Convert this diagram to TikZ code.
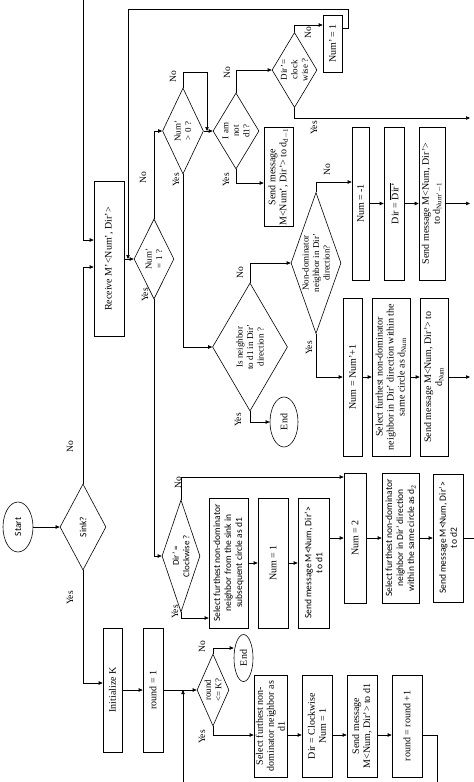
\documentclass[tikz,border=0pt]{standalone}
\usepackage{fontspec}
\setmainfont{Liberation Serif}
\setsansfont{Carlito}
\usetikzlibrary{shapes.geometric,arrows.meta,calc}

\tikzset{
  box/.style={draw, rectangle, rotate=90, inner sep=1pt, align=center},
  dec/.style={draw, diamond, rotate=90, inner sep=0pt, align=center, font=\fontsize{9}{10.5}\selectfont},
  term/.style={draw, ellipse, rotate=90, inner sep=0pt},
  yn/.style={rotate=90, inner sep=0pt, font=\fontsize{9.5}{11}\selectfont},
  sz/.style 2 args={minimum width=#1pt, minimum height=#2pt},
  sf/.style={font=\sffamily\fontsize{9.5}{11}\selectfont}
}

\begin{document}
\begin{tikzpicture}[x=1pt, y=-1pt, line width=0.6pt, >={Triangle[length=4pt, width=3.4pt]},
    font=\fontsize{10}{11}\selectfont]
    \useasboundingbox (0,0) rectangle (474,782);

    % Start and sink test
    \node[term, sf, sz={50}{30}] (start) at (18,527) {Start};
    \node[dec, sf, sz={86}{46}, aspect=1.9] (sink) at (83,527) {Sink?};

    % Receiving node
    \node[box, sz={155}{30}] (recv) at (109,259) {Receive M'<Num', Dir'>};
    \node[dec, sz={80}{40}, aspect=2] (numone) at (154,259) {Num'\\= 1 ?};
    \node[dec, sz={86}{41}, aspect=2.1] (numpos) at (183,131) {Num'\\> 0 ?};
    \node[dec, sz={76}{46}, aspect=1.65] (notdone) at (236,131) {I am\\not\\d1?};
    \node[dec, sz={75}{45}, aspect=1.67] (cw) at (294.5,70) {Dir'=\\clock\\wise ?};
    \node[box, sz={57}{19}] (numset) at (332.5,43.5) {Num' = 1};
    \node[box, sz={98}{29}] (sendprev) at (278.5,177) {Send message\\M<Num', Dir'> to d$_{\mathrm{d-1}}$};

    \node[dec, sz={128}{75}, aspect=1.7] (isnb) at (250,347) {Is neighbor\\to d1 in Dir'\\direction ?};
    \node[term, sz={50}{28}] (endA) at (284,422) {End};
    \node[dec, sz={141}{50}, aspect=2.8] (nondom) at (316,263) {Non-dominator\\neighbor in Dir'\\direction?};
    \node[box, sz={153}{17}] (numdec) at (360.5,203.5) {Num = -1};
    \node[box, sz={153}{20}] (dirflip) at (394,203.5) {Dir = $\overline{\mbox{Dir'}}$};
    \node[box, sz={153}{26}] (sendnm1) at (432,203.5) {Send message M<Num, Dir'>\\to d$_{\mathrm{Num'-1}}$};
    \node[box, sz={158}{19}] (numinc) at (352.5,377) {Num = Num'+1};
    \node[box, sz={158}{38}] (selnum) at (391,377) {Select furthest non-dominator\\neighbor in Dir' direction within the\\same circle as d$_{\mathrm{Num}}$};
    \node[box, sz={158}{28}] (sendnum) at (434,377) {Send message M<Num, Dir'> to\\d$_{\mathrm{Num}}$};

    % Clockwise test
    \node[dec, font=\sffamily\fontsize{9}{10.5}\selectfont, sz={112}{38}, aspect=2.95] (dircw) at (181,556) {Dir' =\\Clockwise ?};
    \node[box, sf, sz={130}{39}] (selsink) at (228.5,563) {Select furthest non-dominator\\neighbor from the sink in\\subsequent circle as d1};
    \node[box, sz={130}{30}] (numA) at (273,563) {Num = 1};
    \node[box, sf, sz={130}{31}] (sendA) at (313.5,563) {Send message M<Num, Dir'>\\to d1};
    \node[box, sz={130}{22}] (numB) at (355,538) {Num = 2};
    \node[box, sf, sz={130}{37}] (selB) at (400.5,538) {Select furthest non-dominator\\neighbor in Dir' direction\\within the same circle as d$_2$};
    \node[box, sf, sz={128}{30}] (sendB) at (448,538) {Send message M<Num, Dir'>\\to d2};

    % Sink rounds
    \node[box, sz={124}{19}] (init) at (112.5,690) {Initialize K};
    \node[box, sz={124}{20}] (rnd1) at (153,690) {round = 1};
    \node[dec, sz={72}{32}, aspect=2.25] (rndq) at (213,690) {round\\<= K?};
    \node[term, sz={47}{19}] (endB) at (243.5,658) {End};
    \node[box, sz={102}{33}] (selfirst) at (270.5,726) {Select furthest non-\\dominator neighbor as\\d1};
    \node[box, sz={102}{30}] (dirset) at (317,726) {Dir = Clockwise\\Num = 1};
    \node[box, sz={102}{30}] (sendC) at (362,726) {Send message\\M<Num, Dir'> to d1};
    \node[box, sz={102}{30}] (rndinc) at (407,726) {round = round +1};

    % Helper points
    \coordinate (topin) at (83,0);
    \coordinate (loopin) at (128,259);
    \coordinate (nojoin) at (207,131);
    \coordinate (out1) at (470,118);
    \coordinate (out2) at (470,203.5);
    \coordinate (out3) at (470,377);
    \coordinate (out4) at (474,538);
    \coordinate (loopB) at (183,690);
    \coordinate (loopA) at (437,782);
    \coordinate (rowC) at (0,735);

    % Connectors
    \draw[->] (start) -- (sink);
    \draw[->] (sink.east) |- (recv.north |- 0,267);
    \draw[->] (topin) |- (recv.north |- 0,240);
    \draw[->] (recv) -- (numone);
    \draw[->] (numset.south |- 0,28) -- ++(6,0) |- (loopin |- 0,9) -- (loopin);
    \draw[->] (numone.east) |- (numpos.north);
    \draw[->] (numone.west) |- (dircw.north);
    \draw[->] (numpos.east) |- (nojoin |- 0,72) -- (nojoin);
    \draw[->] (numpos) -- (notdone);
    \draw[->] (numpos.west) |- (isnb.north);
    \draw[->] (notdone.east) |- (cw.north);
    \draw[->] (notdone.west) |- (sendprev.north |- 0,183);
    \draw[->] (cw.east) |- (numset.north |- 0,25);
    \draw[->] (cw.west) |- (out1);
    \draw[->] (isnb.east) |- (nondom.north);
    \draw[->] (isnb.west) |- (endA.north);
    \draw[->] (nondom.east) |- (numdec.north |- 0,182);
    \draw[->] (numdec) -- (dirflip);
    \draw[->] (dirflip) -- (sendnm1);
    \draw[->] (sendnm1) -- (out2);
    \draw[->] (nondom.west) |- (numinc.north);
    \draw[->] (numinc) -- (selnum);
    \draw[->] (selnum) -- (sendnum);
    \draw[->] (sendnum) -- (out3);
    \draw[->] (dircw.west) |- (selsink.north |- 0,618);
    \draw[->] (dircw.east) |- (numB.north |- 0,477);
    \draw[->] (selsink) -- (numA);
    \draw[->] (numA) -- (sendA);
    \draw[->] (sendA.south |- numB) -- (numB);
    \draw[->] (numB) -- (selB);
    \draw[->] (selB) -- (sendB);
    \draw (sendB) -- (out4);
    \draw[->] (sink.west) |- (init.north |- 0,683);
    \draw[->] (init) -- (rnd1);
    \draw[->] (rnd1) -- (rndq);
    \draw[->] (loopB |- 0,782) -- (loopB);
    \draw[->] (rndq.east) |- (endB.north |- 0,648);
    \draw[->] (rndq.west) |- (selfirst.north |- rowC);
    \draw[->] (selfirst.south |- rowC) -- (dirset.north |- rowC);
    \draw[->] (dirset.south |- rowC) -- (sendC.north |- rowC);
    \draw[->] (sendC.south |- rowC) -- (rndinc.north |- rowC);
    \draw (rndinc.south |- rowC) -| (loopA);

    % Yes / No labels
    \node[yn] (nosink) at (70,447) {No};
    \node[yn] (yessink) at (70,598) {Yes};
    \node[yn] (noone) at (143,178) {No};
    \node[yn] (yesone) at (145,295) {Yes};
    \node[yn] (nopos) at (173,77) {No};
    \node[yn] (yespos) at (176,180) {Yes};
    \node[yn] (nodone) at (227,73) {No};
    \node[yn] (yesdone) at (226,180) {Yes};
    \node[yn] (nocw) at (308,33) {No};
    \node[yn] (yescw) at (314,128) {Yes};
    \node[yn] (nonb) at (240,273) {No};
    \node[yn] (yesnb) at (238,420) {Yes};
    \node[yn] (nondm) at (327,170) {No};
    \node[yn] (yesdm) at (309,348) {Yes};
    \node[yn] (nodir) at (178,483) {No};
    \node[yn] (yesdir) at (175,612) {Yes};
    \node[yn] (nornd) at (202,647) {No};
    \node[yn] (yesrnd) at (202,737) {Yes};
\end{tikzpicture}
\end{document}
